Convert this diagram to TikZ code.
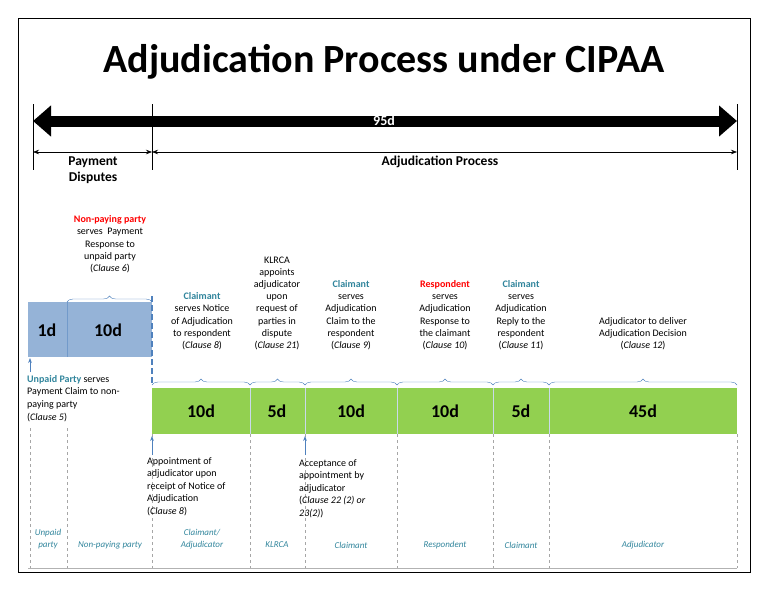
\documentclass[tikz,border=0pt]{standalone}
\usepackage{fontspec}
\setmainfont{Carlito}
\usetikzlibrary{decorations.pathreplacing,arrows.meta}
\definecolor{teal1}{HTML}{31859C}
\definecolor{blu}{HTML}{4F81BD}
\definecolor{boxb}{HTML}{95B3D7}
\definecolor{grn}{HTML}{92D050}
\tikzset{
 desc/.style={font=\fontsize{10}{12.2}\selectfont,align=center,inner sep=0},
 descl/.style={font=\fontsize{10}{12.6}\selectfont,align=left,inner sep=0,anchor=north west},
 role/.style={font=\fontsize{9}{12}\selectfont\itshape,text=teal1,align=center,inner sep=0},
 dur/.style={font=\bfseries\fontsize{18}{20}\selectfont,inner sep=0},
 brc/.style={draw=blu,decorate,decoration={brace,amplitude=6pt}},
 gdash/.style={draw=gray!70,dashed,line width=0.4pt},
 uparr/.style={draw=blu,-{Stealth[length=5pt]},line width=0.8pt},
 seg/.style={draw=white!70!blu,line width=0.6pt}
}
\begin{document}
\begin{tikzpicture}[x=1pt,y=-1pt]
\useasboundingbox (0,0) rectangle (768,597);
\draw[line width=0.6pt] (18,18) rectangle (750,572);
\node[font=\bfseries\fontsize{40}{44}\selectfont] (title) at (384,62) {Adjudication Process under CIPAA};
% big arrow
\coordinate (bl) at (33,121); \coordinate (br) at (737,121);
\draw[line width=11pt,{Triangle[length=18pt,width=30pt]}-{Triangle[length=18pt,width=30pt]}] (bl) -- (br);
\node[font=\bfseries\fontsize{14}{16}\selectfont,text=white] (t95) at (384,121) {95d};
\foreach \x in {33,152,737} \draw[line width=0.6pt] (\x,104) -- (\x,170);
\coordinate (p1) at (33,152); \coordinate (p2) at (152,152); \coordinate (p3) at (737,152);
\draw[{Stealth[length=6pt]}-{Stealth[length=6pt]},line width=0.6pt] (p1) -- (p2);
\draw[{Stealth[length=6pt]}-{Stealth[length=6pt]},line width=0.6pt] (p2) -- (p3);
\node[font=\bfseries\fontsize{13.5}{16}\selectfont,align=center] (pd) at (93,170) {Payment\\Disputes};
\node[font=\bfseries\fontsize{13.5}{16}\selectfont] (ap) at (440,162) {Adjudication Process};
% blue boxes
\fill[boxb] (28,302) rectangle (152,357);
\draw[seg,draw=blu!80] (67,302) -- (67,357);
\node[dur] (b1) at (47,330) {1d};
\node[dur] (b2) at (108,330) {10d};
\draw[brc] (67,302) -- (152,302);
% green bar
\fill[grn] (152,388) rectangle (737,434);
\foreach \x in {250,305,397,493,549} \draw[seg] (\x,388) -- (\x,434);
\node[dur] (g1) at (201,411) {10d};
\node[dur] (g2) at (277,411) {5d};
\node[dur] (g3) at (351,411) {10d};
\node[dur] (g4) at (445,411) {10d};
\node[dur] (g5) at (521,411) {5d};
\node[dur] (g6) at (643,411) {45d};
\foreach \a/\b in {152/250,250/305,305/397,397/493,493/549,549/737} \draw[brc] (\a,385) -- (\b,385);
% dashed grey lines
\foreach \x in {30,67} \draw[gdash] (\x,428) -- (\x,568);
\foreach \x in {152,250,305,397,493,549,737} \draw[gdash] (\x,434) -- (\x,568);
\draw[gray!60,line width=0.4pt] (28,568) -- (737,568);
% dashed blue divider
\draw[blu,line width=2.2pt,dash pattern=on 6pt off 3pt] (152,296) -- (152,385);
% up arrows
\coordinate (a1s) at (30,372); \coordinate (a1e) at (30,358);
\coordinate (a2s) at (152,455); \coordinate (a2e) at (152,436);
\coordinate (a3s) at (305,455); \coordinate (a3e) at (305,436);
\draw[uparr] (a1s) -- (a1e);
\draw[uparr] (a2s) -- (a2e);
\draw[uparr] (a3s) -- (a3e);
% descriptions
\node[desc,anchor=south] (d0) at (110,273) {\textcolor{red}{\textbf{Non-paying party}}\\serves\ \ Payment\\Response to\\unpaid party\\(\textit{Clause 6})};
\node[desc,anchor=south] (d1) at (202,350) {\textcolor{teal1}{\textbf{Claimant}}\\serves Notice\\of Adjudication\\to respondent\\(\textit{Clause 8})};
\node[desc,anchor=south] (d2) at (277,350) {KLRCA\\appoints\\adjudicator\\upon\\request of\\parties in\\dispute\\(\textit{Clause 21})};
\node[desc,anchor=south] (d3) at (351,350) {\textcolor{teal1}{\textbf{Claimant}}\\serves\\Adjudication\\Claim to the\\respondent\\(\textit{Clause 9})};
\node[desc,anchor=south] (d4) at (445,350) {\textcolor{red}{\textbf{Respondent}}\\serves\\Adjudication\\Response to\\the claimant\\(\textit{Clause 10})};
\node[desc,anchor=south] (d5) at (521,350) {\textcolor{teal1}{\textbf{Claimant}}\\serves\\Adjudication\\Reply to the\\respondent\\(\textit{Clause 11})};
\node[desc,anchor=south] (d6) at (643,350) {Adjudicator to deliver\\Adjudication Decision\\(\textit{Clause 12})};
\node[descl] (u0) at (27,375) {\textcolor{teal1}{\textbf{Unpaid Party}} serves\\Payment Claim to non-\\paying party\\(\textit{Clause 5})};
\node[descl] (u1) at (147,457) {Appointment of\\adjudicator upon\\receipt of Notice of\\Adjudication\\(\textit{Clause 8})};
\node[descl] (u2) at (299,459) {Acceptance of\\appointment by\\adjudicator\\(\textit{Clause 22 (2) or}\\\textit{23(2)})};
% roles
\node[role] (r0) at (48,539) {Unpaid\\party};
\node[role] (r1) at (110,545) {Non-paying party};
\node[role] (r2) at (202,539) {Claimant/\\Adjudicator};
\node[role] (r3) at (277,545) {KLRCA};
\node[role] (r4) at (351,545) {Claimant};
\node[role] (r5) at (445,545) {Respondent};
\node[role] (r6) at (521,545) {Claimant};
\node[role] (r7) at (643,545) {Adjudicator};
\end{tikzpicture}
\end{document}
